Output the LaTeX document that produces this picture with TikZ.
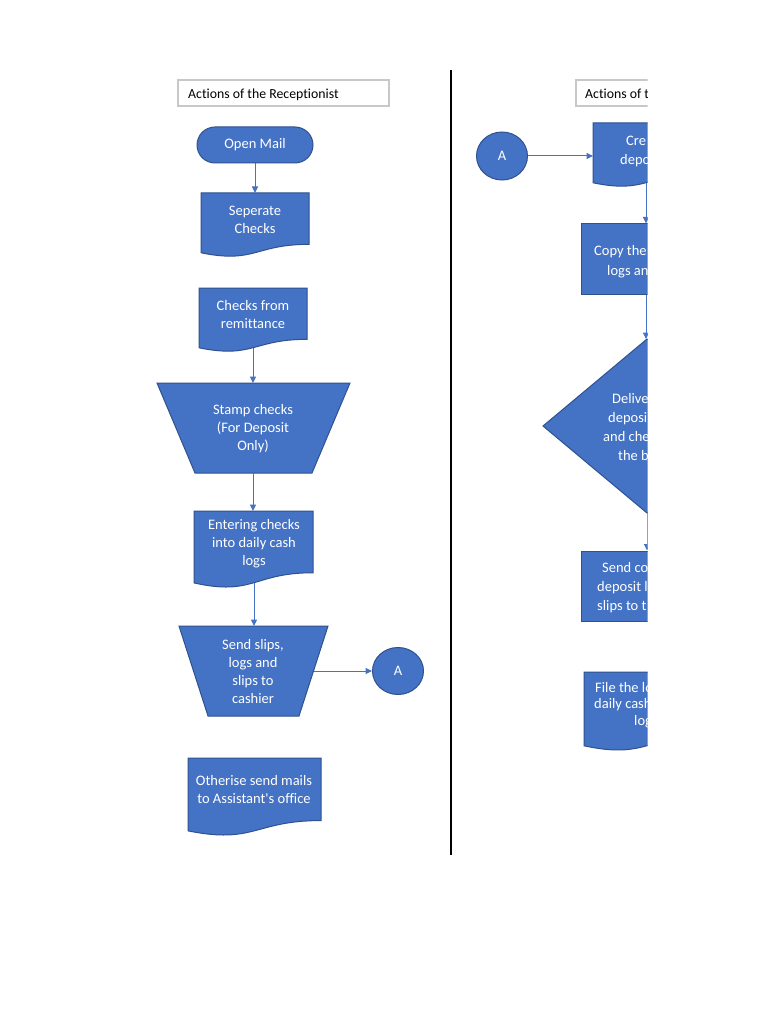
\documentclass[tikz,border=0pt]{standalone}
\usepackage{fontspec}
\setmainfont{Carlito}[Ligatures={NoCommon,TeXOff}]
\usetikzlibrary{arrows.meta,shapes.geometric}
\definecolor{fcblue}{HTML}{4472C4}
\definecolor{fcedge}{HTML}{2F528F}
\definecolor{hdrgray}{HTML}{C8C8C8}
\newcommand\fcdoc[4]{\path[shapebox] (#1,#2) -- ({#1+#3},#2) -- ({#1+#3},{#2+0.802*#4}) .. controls ({#1+0.5*#3},{#2+0.802*#4}) and ({#1+0.5*#3},{#2+1.107*#4}) .. (#1,{#2+0.934*#4}) -- cycle;}
\begin{document}
\begin{tikzpicture}[x=1pt,y=-1pt,
 shapebox/.style={fill=fcblue,draw=fcedge,line width=1pt},
 txt/.style={text=white,align=center,font=\fontsize{14.5}{18}\selectfont,inner sep=0pt},
 frag/.style={text=white,anchor=base west,font=\fontsize{14.5}{18}\selectfont,inner sep=0pt},
 flow/.style={draw=fcblue,line width=1pt,-{Triangle[length=6.5pt,width=6pt]}},
 hdr/.style={draw=hdrgray,line width=1.2pt,fill=white},
 hdrtxt/.style={anchor=base west,font=\fontsize{13.8}{16}\selectfont,inner sep=0pt},
]
\useasboundingbox[fill=white] (0,0) rectangle (768,1024);

% ---------- left column ----------
\draw[hdr] (178,80) rectangle (389,106);
\node[hdrtxt] (hdrL) at (188,98.5) {Actions of the Receptionist};

\node[shapebox, rounded corners=18pt, minimum width=116pt, minimum height=36pt, txt] (open) at (255,145) {Open Mail};

\fcdoc{201}{193}{108}{64}
\node[txt] (sep) at (255,219.5) {Seperate\\Checks};
\coordinate (sept) at (255,193);

\fcdoc{199}{288}{108}{64}
\node[txt] (rem) at (253,314.5) {Checks from\\remittance};
\coordinate (remb) at (253,347.7);

\path[shapebox] (157,383) -- (350,383) -- (312,473) -- (195,473) -- cycle;
\node[txt] (stamp) at (253,429) {Stamp checks\\(For Deposit\\Only)};
\coordinate (stampt) at (253,383);
\coordinate (stampb) at (253,473);

\fcdoc{194}{511}{119}{77}
\node[txt] (ent) at (254,543.5) {Entering checks\\into daily cash\\logs};
\coordinate (entt) at (253,511);
\coordinate (entb) at (254,582.8);

\path[shapebox] (179,626) -- (328,626) -- (299,716) -- (208,716) -- cycle;
\node[txt] (send) at (253,671.5) {Send slips,\\logs and\\slips to\\cashier};
\coordinate (sendt) at (254,626);
\coordinate (sende) at (313.5,671);

\node[shapebox, ellipse, minimum width=51pt, minimum height=47pt, txt] (aL) at (398,671) {A};

\fcdoc{188}{758}{133}{78}
\node[txt] (oth) at (254,789.5) {Otherise send mails\\to Assistant's office};

\draw[flow] (open.south) -- (sept);
\draw[flow] (remb) -- (stampt);
\draw[flow] (stampb) -- (entt);
\draw[flow] (entb) -- (sendt);
\draw[flow] (sende) -- (aL.west);

% ---------- separator ----------
\draw[line width=2pt] (451,70) -- (451,855);

% ---------- right column (cut off) ----------
\begin{scope}
\clip (452,0) rectangle (647.5,1024);
\draw[hdr] (576,80) rectangle (720,106);
\node[hdrtxt] (hdrR) at (585,98.5) {Actions of t};

\node[shapebox, ellipse, minimum width=51pt, minimum height=48pt, txt] (aR) at (502,156) {A};

\fcdoc{593}{123}{106}{64}
\node[frag] (cre1) at (626,145.5) {Cre};
\node[frag] (cre2) at (620,164.5) {depo};
\coordinate (crew) at (593,156);
\coordinate (creb) at (646,182.7);

\node[shapebox, minimum width=130pt, minimum height=70pt] (copy) at (646,259) {};
\node[frag] (copy1) at (594,255.5) {Copy the};
\node[frag] (copy2) at (607,275.5) {logs an};

\path[shapebox] (647,339) -- (751,426) -- (647,513) -- (543,426) -- cycle;
\coordinate (diat) at (646,339);
\coordinate (diab) at (647,513);
\node[frag] (dia1) at (612,403.5) {Delive};
\node[frag] (dia2) at (608,422.5) {deposi};
\node[frag] (dia3) at (603,441.5) {and che};
\node[frag] (dia4) at (618,460.5) {the b};

\node[shapebox, minimum width=132pt, minimum height=70pt] (sco) at (647,586) {};
\node[frag] (sco1) at (602,572.5) {Send co};
\node[frag] (sco2) at (597,591.5) {deposit l};
\node[frag] (sco3) at (597,610.5) {slips to t};

\fcdoc{584}{672}{126}{79}
\node[frag] (file1) at (595,692.5) {File the lo};
\node[frag] (file2) at (594,708.5) {daily cash};
\node[frag] (file3) at (634,725.5) {log};

\draw[flow] (aR.east) -- (crew);
\draw[flow] (creb) -- (copy.north);
\draw[flow] (copy.south) -- (diat);
\draw[flow] (diab) -- (sco.north);
\end{scope}
\end{tikzpicture}
\end{document}
